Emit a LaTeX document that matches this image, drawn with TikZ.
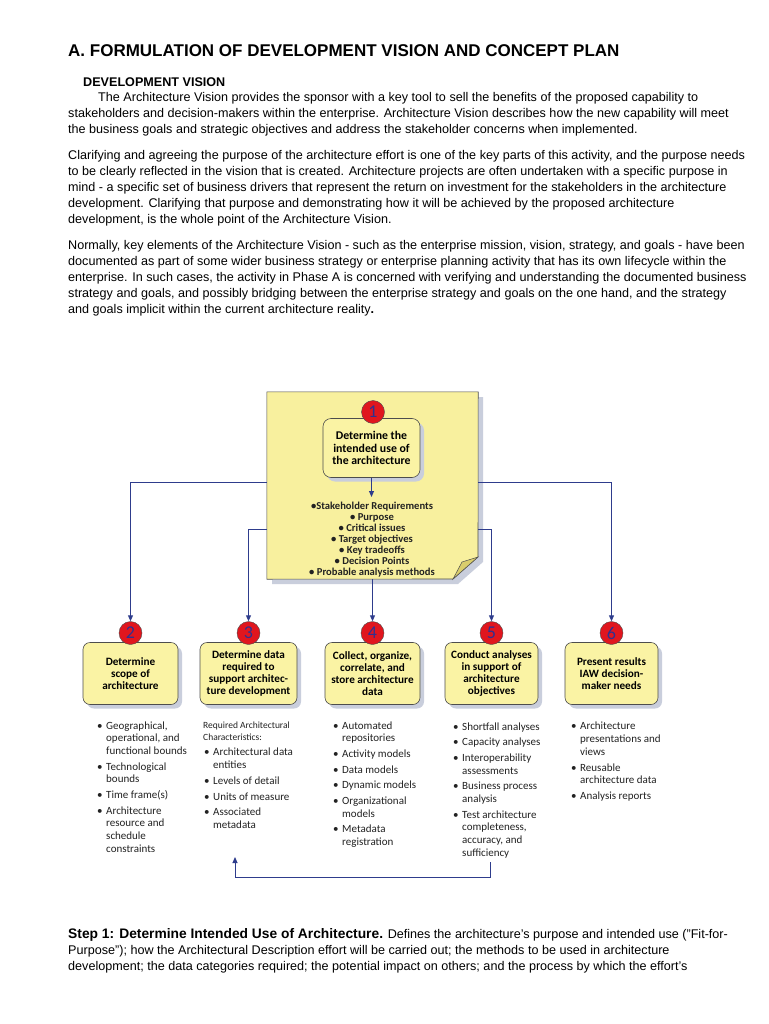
\documentclass[tikz,border=0pt]{standalone}
\usepackage{fontspec}
\setmainfont{Liberation Sans}
\newfontfamily\carl{Carlito}
\usetikzlibrary{arrows.meta,shadows}
\definecolor{notefill}{HTML}{F8F09E}
\definecolor{boxfill}{HTML}{FAF3A4}
\definecolor{flapc}{HTML}{D9CD6C}
\definecolor{shadowc}{HTML}{C9CEDC}
\definecolor{bordc}{HTML}{4D4D4D}
\definecolor{redc}{HTML}{E0161E}
\definecolor{digitc}{HTML}{2E3192}
\definecolor{connc}{HTML}{2E3C8C}
\definecolor{listc}{HTML}{222222}
\newcommand\itm{\makebox[9pt][l]{\textbullet}}
\newcommand\cnt{\hspace*{9pt}}
\begin{document}
\begin{tikzpicture}[x=1pt,y=-1pt,
  para/.style={anchor=north west,inner sep=0pt,align=left,font=\fontsize{12.6}{16}\selectfont},
  rowbox/.style={draw=bordc,line width=0.6pt,fill=boxfill,rounded corners=7pt,
    minimum height=62pt,inner sep=1pt,align=center,
    font=\carl\bfseries\fontsize{11.2}{12.2}\selectfont,
    drop shadow={shadow xshift=4pt,shadow yshift=-4pt,fill=shadowc,opacity=1}},
  numc/.style={circle,fill=redc,draw=bordc,line width=0.4pt,minimum size=23pt,inner sep=0pt,
    text=digitc,font=\carl\fontsize{18}{18}\selectfont},
  arr/.style={draw=connc,line width=0.9pt,-{Triangle[length=6pt,width=5pt]}},
  lst/.style={anchor=north west,inner sep=0pt,align=left,text=listc,font=\carl\fontsize{11}{12.7}\selectfont},
]
\useasboundingbox[fill=white] (0,0) rectangle (768,1024);

% ---------- text ----------
\node[anchor=base west,inner sep=0pt,font=\fontsize{17}{20}\selectfont\bfseries] (h1) at (68,57)
  {A. FORMULATION OF DEVELOPMENT VISION AND CONCEPT PLAN};
\node[anchor=base west,inner sep=0pt,font=\fontsize{12.6}{16}\selectfont\bfseries] (h2) at (83,86.5)
  {DEVELOPMENT VISION};
\node[para] (p1) at (68,90.3) {\strut\hspace*{30pt}The Architecture Vision provides the sponsor with a key tool to sell the benefits of the proposed capability to\\
stakeholders and decision-makers within the enterprise. Architecture Vision describes how the new capability will meet\\
the business goals and strategic objectives and address the stakeholder concerns when implemented.};
\node[para] (p2) at (68,148.3) {\strut Clarifying and agreeing the purpose of the architecture effort is one of the key parts of this activity, and the purpose needs\\
to be clearly reflected in the vision that is created. Architecture projects are often undertaken with a specific purpose in\\
mind - a specific set of business drivers that represent the return on investment for the stakeholders in the architecture\\
development. Clarifying that purpose and demonstrating how it will be achieved by the proposed architecture\\
development, is the whole point of the Architecture Vision.};
\node[para] (p3) at (68,238.3) {\strut Normally, key elements of the Architecture Vision - such as the enterprise mission, vision, strategy, and goals - have been\\
documented as part of some wider business strategy or enterprise planning activity that has its own lifecycle within the\\
enterprise. In such cases, the activity in Phase A is concerned with verifying and understanding the documented business\\
strategy and goals, and possibly bridging between the enterprise strategy and goals on the one hand, and the strategy\\
and goals implicit within the current architecture reality{\bfseries.}};
\node[para] (p4) at (68,927.3) {\strut{\fontsize{13.8}{16}\selectfont\bfseries Step 1: Determine Intended Use of Architecture.} Defines the architecture's purpose and intended use ("Fit-for-\\
Purpose"); how the Architectural Description effort will be carried out; the methods to be used in architecture\\
development; the data categories required; the potential impact on others; and the process by which the effort's};

% ---------- note ----------
\node[minimum width=211pt,minimum height=187pt,inner sep=0pt] (note) at (372.5,485.5) {};
\fill[shadowc] (272,397) -- (483,397) -- (483,562) -- (458,584) -- (272,584) -- cycle;
\filldraw[fill=notefill,draw=bordc,line width=0.6pt]
  (note.north west) -- (note.north east) -- (478,557) -- (453,579) -- (note.south west) -- cycle;
\filldraw[fill=flapc,draw=bordc,line width=0.5pt] (478,557) -- (453,579) .. controls (457,570) .. (462,562) -- cycle;

\node[rowbox,minimum width=97pt,minimum height=59pt,font=\carl\bfseries\fontsize{11.8}{12.4}\selectfont,rounded corners=8pt] (b1) at (371.5,448)
  {Determine the\\intended use of\\the architecture};
\node[numc] (c1) at (373,412) {1};
\coordinate (srt) at (0,497);
\draw[arr] (b1.south) -- (b1.south |- srt);
\node[anchor=north,inner sep=0pt,align=center,text=listc,font=\carl\bfseries\fontsize{10.6}{10.9}\selectfont] (st) at (372,501.9)
  {\strut\textbullet Stakeholder Requirements\\ \textbullet\ Purpose\\ \textbullet\ Critical issues\\ \textbullet\ Target objectives\\ \textbullet\ Key tradeoffs\\ \textbullet\ Decision Points\\ \textbullet\ Probable analysis methods};

% ---------- row boxes ----------
\node[rowbox,minimum width=95pt] (b2) at (130.5,673.5) {Determine\\scope of\\architecture};
\node[rowbox,minimum width=97pt] (b3) at (248.5,673.5) {Determine data\\required to\\support architec-\\ture development};
\node[rowbox,minimum width=95pt] (b4) at (372.5,673.5) {Collect, organize,\\correlate, and\\store architecture\\data};
\node[rowbox,minimum width=93pt] (b5) at (491.5,673.5) {Conduct analyses\\in support of\\architecture\\objectives};
\node[rowbox,minimum width=93pt] (b6) at (611.5,673.5) {Present results\\IAW decision-\\maker needs};
\node[numc] (c2) at (130.5,633) {2};
\node[numc] (c3) at (248.5,633) {3};
\node[numc] (c4) at (372.5,633) {4};
\node[numc] (c5) at (491.5,633) {5};
\node[numc] (c6) at (611.5,633) {6};

% ---------- connectors ----------
\coordinate (ya) at (0,482);
\coordinate (yb) at (0,529);
\draw[arr] (note.west |- ya) -| (c2.north);
\draw[arr] (note.east |- ya) -| (c6.north);
\draw[arr] (note.west |- yb) -| (c3.north);
\draw[arr] (note.east |- yb) -| (c5.north);
\draw[arr] (note.south -| c4) -- (c4.north);

% ---------- lists ----------
\node[lst] (l2) at (97,719.9) {\strut\itm Geographical,\\ \cnt operational, and\\ \cnt functional bounds\\[3pt]
  \itm Technological\\ \cnt bounds\\[3pt] \itm Time frame(s)\\[3pt] \itm Architecture\\ \cnt resource and\\ \cnt schedule\\ \cnt constraints};
\node[lst,font=\carl\fontsize{9.5}{12}\selectfont] (l3h) at (203,720.1) {\strut Required Architectural\\Characteristics:};
\node[lst] (l3) at (204,746.9) {\strut\itm Architectural data\\ \cnt entities\\[3pt] \itm Levels of detail\\[3pt] \itm Units of measure\\[3pt]
  \itm Associated\\ \cnt metadata};
\node[lst] (l4) at (333,719.9) {\strut\itm Automated\\ \cnt repositories\\[3pt] \itm Activity models\\[3pt] \itm Data models\\[3pt]
  \itm Dynamic models\\[3pt] \itm Organizational\\ \cnt models\\[3pt] \itm Metadata\\ \cnt registration};
\node[lst] (l5) at (453,720.9) {\strut\itm Shortfall analyses\\[3pt] \itm Capacity analyses\\[3pt] \itm Interoperability\\ \cnt assessments\\[3pt]
  \itm Business process\\ \cnt analysis\\[3pt] \itm Test architecture\\ \cnt completeness,\\ \cnt accuracy, and\\ \cnt sufficiency};
\node[lst] (l6) at (571,720.9) {\strut\itm Architecture\\ \cnt presentations and\\ \cnt views\\[3pt] \itm Reusable\\ \cnt architecture data\\[3pt]
  \itm Analysis reports};

% ---------- feedback ----------
\coordinate (fbs) at (490,862);
\coordinate (fbe) at (235,857);
\coordinate (fby) at (0,877);
\draw[arr] (fbs) -- (fbs |- fby) -| (fbe);
\end{tikzpicture}
\end{document}
